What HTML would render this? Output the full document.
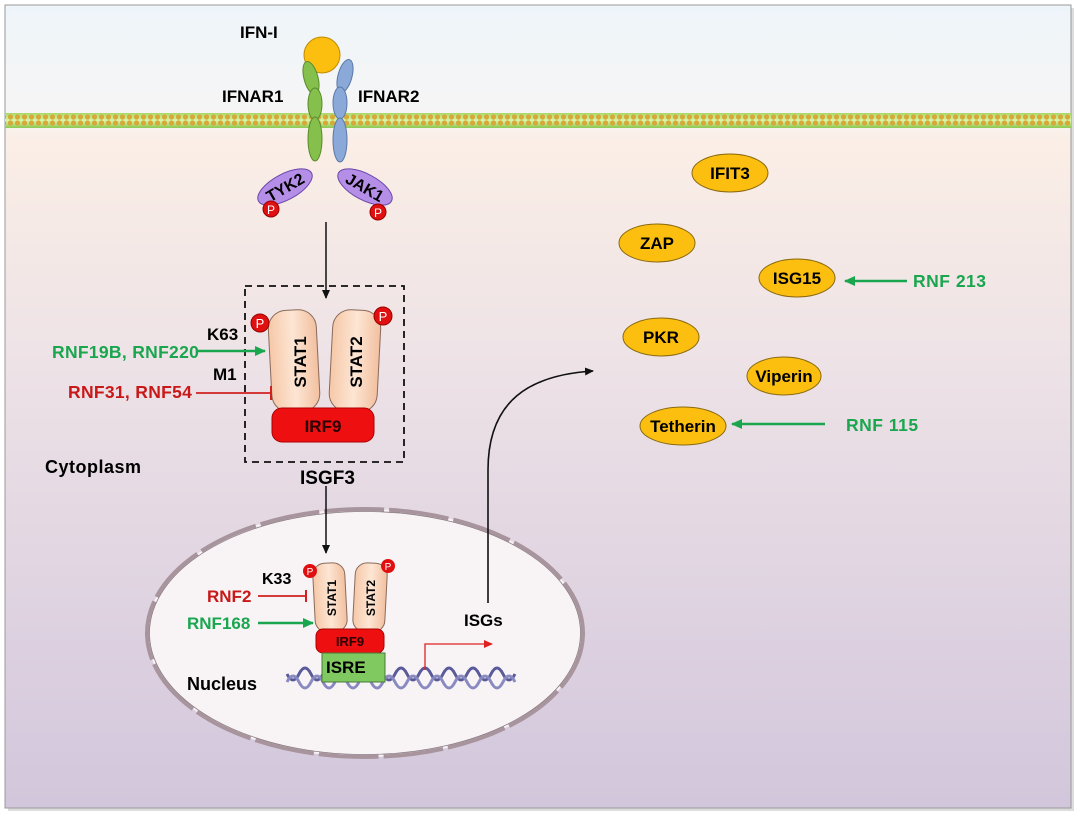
<!DOCTYPE html>
<html><head><meta charset="utf-8"><style>
html,body{margin:0;padding:0;background:#fff;}
svg{display:block;font-family:"Liberation Sans",Arial,sans-serif;font-weight:bold;}
</style></head><body>
<svg width="1080" height="814" viewBox="0 0 1080 814" xmlns="http://www.w3.org/2000/svg">
<defs>
<linearGradient id="bg" x1="0" y1="0" x2="0" y2="1">
<stop offset="0" stop-color="#eef5fa"/>
<stop offset="0.13" stop-color="#f6f5f5"/>
<stop offset="0.17" stop-color="#fbeee6"/>
<stop offset="0.45" stop-color="#ede2e6"/>
<stop offset="1" stop-color="#d2c6dc"/>
</linearGradient>
<linearGradient id="mem" x1="0" y1="0" x2="0" y2="1">
<stop offset="0" stop-color="#a8d86a"/><stop offset="0.5" stop-color="#d8f5a8"/><stop offset="1" stop-color="#8cc850"/>
</linearGradient>
<pattern id="dots" x="0" y="0" width="7" height="24" patternUnits="userSpaceOnUse">
<circle cx="3.5" cy="3" r="2.6" fill="#d8a838"/><circle cx="3.5" cy="21" r="2.6" fill="#d8a838"/>
</pattern>
<marker id="ab" markerWidth="10" markerHeight="10" refX="8" refY="5" orient="auto" markerUnits="userSpaceOnUse"><path d="M0,1 L9,5 L0,9 z" fill="#111"/></marker>
<marker id="ag" markerWidth="12" markerHeight="12" refX="10" refY="6" orient="auto" markerUnits="userSpaceOnUse"><path d="M0,1 L11,6 L0,11 z" fill="#1aa64f"/></marker>
<marker id="ar" markerWidth="10" markerHeight="10" refX="8" refY="5" orient="auto" markerUnits="userSpaceOnUse"><path d="M0,1 L9,5 L0,9 z" fill="#e02020"/></marker>
<linearGradient id="stat" x1="0" y1="0" x2="1" y2="0"><stop offset="0" stop-color="#f6c8a8"/><stop offset="0.5" stop-color="#fde6d4"/><stop offset="1" stop-color="#f2c0a0"/></linearGradient>
</defs>
<rect x="0" y="0" width="1080" height="814" fill="#fff"/>
<rect x="8" y="8" width="1066" height="803" fill="#bbb" opacity="0.5"/>
<rect x="5" y="5" width="1066" height="803" fill="url(#bg)" stroke="#999" stroke-width="1"/>
<!-- membrane -->
<rect x="5" y="113" width="1066" height="15" fill="url(#mem)"/>
<rect x="5" y="108" width="1066" height="24" fill="url(#dots)"/>
<!-- receptors -->
<circle cx="322" cy="55" r="18" fill="#fcbf10" stroke="#c08a00"/>
<ellipse cx="311" cy="78" rx="7" ry="17" fill="#86c04c" stroke="#5a8a2c" transform="rotate(-15 311 78)"/>
<ellipse cx="315" cy="104" rx="7" ry="16" fill="#86c04c" stroke="#5a8a2c"/>
<ellipse cx="315" cy="139" rx="7" ry="22" fill="#86c04c" stroke="#5a8a2c"/>
<ellipse cx="345" cy="76" rx="7" ry="17" fill="#8aa8d8" stroke="#5a78a8" transform="rotate(15 345 76)"/>
<ellipse cx="340" cy="103" rx="7" ry="16" fill="#8aa8d8" stroke="#5a78a8"/>
<ellipse cx="340" cy="140" rx="7" ry="22" fill="#8aa8d8" stroke="#5a78a8"/>
<ellipse cx="285" cy="187" rx="30" ry="13" fill="#b58ee8" stroke="#6a48a8" transform="rotate(-28 285 187)"/>
<ellipse cx="365" cy="187" rx="30" ry="13" fill="#b58ee8" stroke="#6a48a8" transform="rotate(28 365 187)"/>
<text x="285" y="193" font-size="16" text-anchor="middle" transform="rotate(-30 285 187)">TYK2</text>
<text x="365" y="193" font-size="16" text-anchor="middle" transform="rotate(30 365 187)">JAK1</text>
<circle cx="271" cy="209" r="8" fill="#e01010" stroke="#900"/><text x="271" y="214" font-size="12" fill="#fff" text-anchor="middle" font-weight="normal">P</text>
<circle cx="378" cy="212" r="8" fill="#e01010" stroke="#900"/><text x="378" y="217" font-size="12" fill="#fff" text-anchor="middle" font-weight="normal">P</text>
<text x="240" y="38" font-size="17">IFN-I</text>
<text x="222" y="102" font-size="17">IFNAR1</text>
<text x="358" y="102" font-size="17">IFNAR2</text>
<line x1="326" y1="222" x2="326" y2="298" stroke="#111" stroke-width="1.5" marker-end="url(#ab)"/>
<!-- ISGF3 box -->
<rect x="245" y="286" width="159" height="176" fill="none" stroke="#111" stroke-width="1.8" stroke-dasharray="7,5"/>
<rect x="270" y="310" width="48" height="102" rx="18" fill="url(#stat)" stroke="#8a6a5a" transform="rotate(-3 294 360)"/>
<rect x="331" y="310" width="48" height="102" rx="18" fill="url(#stat)" stroke="#8a6a5a" transform="rotate(3 355 360)"/>
<text x="300" y="368" font-size="17" text-anchor="middle" transform="rotate(-90 300 362)">STAT1</text>
<text x="356" y="368" font-size="17" text-anchor="middle" transform="rotate(-90 356 362)">STAT2</text>
<rect x="272" y="408" width="102" height="34" rx="10" fill="#ee1010" stroke="#a00"/>
<text x="323" y="432" font-size="17" text-anchor="middle" fill="#2a0000">IRF9</text>
<circle cx="260" cy="323" r="9" fill="#e01010" stroke="#900"/><text x="260" y="328" font-size="13" fill="#fff" text-anchor="middle" font-weight="normal">P</text>
<circle cx="383" cy="316" r="9" fill="#e01010" stroke="#900"/><text x="383" y="321" font-size="13" fill="#fff" text-anchor="middle" font-weight="normal">P</text>
<text x="207" y="340" font-size="17">K63</text>
<text x="52" y="358" font-size="17.5" fill="#1aa64f" letter-spacing="0.3">RNF19B, RNF220</text>
<line x1="196" y1="351" x2="265" y2="351" stroke="#1aa64f" stroke-width="2.5" marker-end="url(#ag)"/>
<text x="213" y="380" font-size="17">M1</text>
<text x="68" y="398" font-size="17.5" fill="#c81818" letter-spacing="0.3">RNF31, RNF54</text>
<line x1="196" y1="393" x2="270" y2="393" stroke="#d02020" stroke-width="1.8"/>
<line x1="271" y1="386" x2="271" y2="400" stroke="#d02020" stroke-width="2"/>
<text x="45" y="473" font-size="18" letter-spacing="0.5">Cytoplasm</text>
<text x="300" y="484" font-size="19">ISGF3</text>
<!-- nucleus -->
<ellipse cx="365" cy="633" rx="218" ry="124" fill="#f8f4f6" stroke="#a8949c" stroke-width="4" stroke-dasharray="60,5"/>
<ellipse cx="365" cy="633" rx="215.5" ry="121.5" fill="none" stroke="#8a7a82" stroke-width="0.8"/>
<line x1="326" y1="486" x2="326" y2="553" stroke="#111" stroke-width="1.5" marker-end="url(#ab)"/>
<rect x="314" y="563" width="32" height="69" rx="12" fill="url(#stat)" stroke="#8a6a5a" transform="rotate(-3 330 598)"/>
<rect x="354" y="563" width="32" height="69" rx="12" fill="url(#stat)" stroke="#8a6a5a" transform="rotate(3 370 598)"/>
<text x="332" y="602" font-size="12" text-anchor="middle" transform="rotate(-90 332 598)">STAT1</text>
<text x="371" y="602" font-size="12" text-anchor="middle" transform="rotate(-90 371 598)">STAT2</text>
<rect x="316" y="629" width="68" height="24" rx="7" fill="#ee1010" stroke="#a00"/>
<text x="350" y="646" font-size="13" text-anchor="middle" fill="#2a0000">IRF9</text>
<circle cx="310" cy="571" r="7" fill="#e01010"/><text x="310" y="575" font-size="10" fill="#fff" text-anchor="middle" font-weight="normal">P</text>
<circle cx="388" cy="566" r="7" fill="#e01010"/><text x="388" y="570" font-size="10" fill="#fff" text-anchor="middle" font-weight="normal">P</text>
<!-- DNA -->
<path d="M287,674 q6,12 12,0 t12,0 t12,0 t12,0 t12,0 t12,0 t12,0 t12,0 t12,0 t12,0 t12,0 t12,0 t12,0 t12,0 t12,0 t12,0 t12,0 t12,0 t12,0" fill="none" stroke="#5a5a9a" stroke-width="3"/>
<path d="M287,682 q6,-12 12,0 t12,0 t12,0 t12,0 t12,0 t12,0 t12,0 t12,0 t12,0 t12,0 t12,0 t12,0 t12,0 t12,0 t12,0 t12,0 t12,0 t12,0 t12,0" fill="none" stroke="#8a8ac0" stroke-width="3"/>
<rect x="322" y="653" width="63" height="29" fill="#80c860" stroke="#4a7a3a"/>
<text x="326" y="673" font-size="17">ISRE</text>
<text x="187" y="690" font-size="18">Nucleus</text>
<text x="262" y="584" font-size="16">K33</text>
<text x="207" y="602" font-size="17" fill="#c81818">RNF2</text>
<line x1="258" y1="596" x2="305" y2="596" stroke="#d02020" stroke-width="1.8"/>
<line x1="306" y1="590" x2="306" y2="602" stroke="#d02020" stroke-width="2"/>
<text x="187" y="629" font-size="17" fill="#1aa64f">RNF168</text>
<line x1="258" y1="623" x2="313" y2="623" stroke="#1aa64f" stroke-width="2.5" marker-end="url(#ag)"/>
<text x="464" y="626" font-size="17">ISGs</text>
<path d="M425,670 L425,644 L492,644" fill="none" stroke="#e02020" stroke-width="1.3" marker-end="url(#ar)"/>
<path d="M488,603 L488,470 C488,400 530,375 593,371" fill="none" stroke="#111" stroke-width="1.6" marker-end="url(#ab)"/>
<!-- ISGs -->
<g stroke="#8a6a10" stroke-width="1" fill="#fcbf10">
<ellipse cx="730" cy="173" rx="38" ry="19"/>
<ellipse cx="657" cy="243" rx="38" ry="19"/>
<ellipse cx="797" cy="278" rx="38" ry="19"/>
<ellipse cx="661" cy="337" rx="38" ry="19"/>
<ellipse cx="784" cy="376" rx="37" ry="19"/>
<ellipse cx="683" cy="426" rx="43" ry="19"/>
</g>
<g font-size="17" text-anchor="middle">
<text x="730" y="179">IFIT3</text>
<text x="657" y="249">ZAP</text>
<text x="797" y="284">ISG15</text>
<text x="661" y="343">PKR</text>
<text x="784" y="382">Viperin</text>
<text x="683" y="432">Tetherin</text>
</g>
<text x="913" y="287" font-size="17.5" fill="#1aa64f" letter-spacing="0.5">RNF 213</text>
<line x1="907" y1="281" x2="845" y2="281" stroke="#1aa64f" stroke-width="2.5" marker-end="url(#ag)"/>
<text x="846" y="431" font-size="17.5" fill="#1aa64f" letter-spacing="0.5">RNF 115</text>
<line x1="825" y1="424" x2="732" y2="424" stroke="#1aa64f" stroke-width="2.5" marker-end="url(#ag)"/>
</svg>
</body></html>
